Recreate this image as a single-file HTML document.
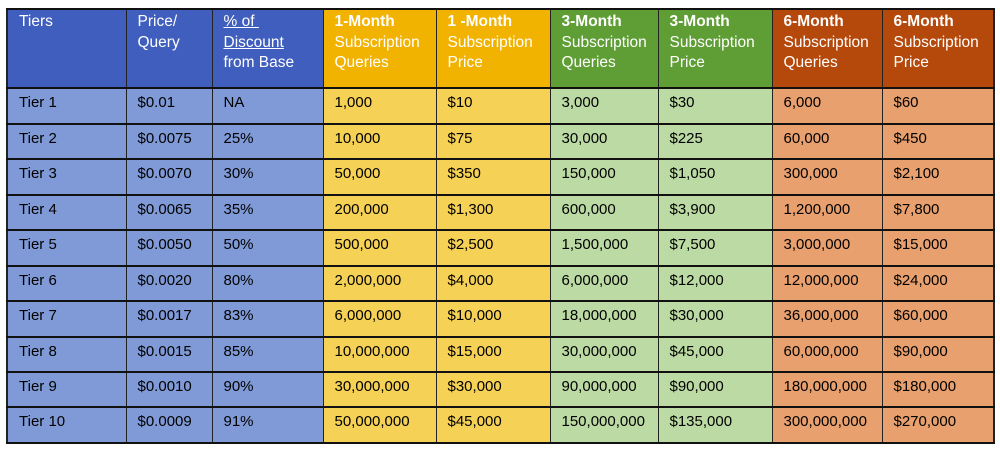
<!DOCTYPE html>
<html><head><meta charset="utf-8"><style>
html,body{margin:0;padding:0;background:#fff;width:1000px;height:452px;overflow:hidden}
table{position:absolute;left:6px;top:8px;width:987px;height:436px;border-collapse:collapse;table-layout:fixed;font-family:"Liberation Sans",Arial,sans-serif;font-size:15px;color:#000;border:2px solid #222}
td{border-left:1.5px solid #222;border-right:1.5px solid #222;border-top:2.5px solid #111;border-bottom:2.5px solid #111;padding:4px 0 0 11px;vertical-align:top;line-height:19px;height:33px;box-sizing:border-box;white-space:nowrap;overflow:hidden}
tr.h td{height:74px;color:#fff;font-size:15.5px;line-height:20.5px;padding-top:2px}
.b{background:#7f9ad6}.bh{background:#3f5ebd}
.o{background:#f5d156}.oh{background:#f2b200}
.g{background:#bcdaa3}.gh{background:#5f9d35}
.r{background:#e8a06f}.rh{background:#b5480b}
u{text-decoration:underline}
</style></head><body>
<table>
<colgroup><col style="width:119px"><col style="width:86px"><col style="width:111px"><col style="width:113px"><col style="width:114px"><col style="width:108px"><col style="width:114px"><col style="width:110px"><col style="width:112px"></colgroup>
<tr class="h"><td class="bh">Tiers</td><td class="bh">Price/<br>Query</td><td class="bh"><u>% of&nbsp;</u><br><u>Discount</u><br>from Base</td><td class="oh"><b>1-Month</b><br>Subscription<br>Queries</td><td class="oh"><b>1 -Month</b><br>Subscription<br>Price</td><td class="gh"><b>3-Month</b><br>Subscription<br>Queries</td><td class="gh"><b>3-Month</b><br>Subscription<br>Price</td><td class="rh"><b>6-Month</b><br>Subscription<br>Queries</td><td class="rh"><b>6-Month</b><br>Subscription<br>Price</td></tr>
<tr><td class="b">Tier 1</td><td class="b">$0.01</td><td class="b">NA</td><td class="o">1,000</td><td class="o">$10</td><td class="g">3,000</td><td class="g">$30</td><td class="r">6,000</td><td class="r">$60</td></tr>
<tr><td class="b">Tier 2</td><td class="b">$0.0075</td><td class="b">25%</td><td class="o">10,000</td><td class="o">$75</td><td class="g">30,000</td><td class="g">$225</td><td class="r">60,000</td><td class="r">$450</td></tr>
<tr><td class="b">Tier 3</td><td class="b">$0.0070</td><td class="b">30%</td><td class="o">50,000</td><td class="o">$350</td><td class="g">150,000</td><td class="g">$1,050</td><td class="r">300,000</td><td class="r">$2,100</td></tr>
<tr><td class="b">Tier 4</td><td class="b">$0.0065</td><td class="b">35%</td><td class="o">200,000</td><td class="o">$1,300</td><td class="g">600,000</td><td class="g">$3,900</td><td class="r">1,200,000</td><td class="r">$7,800</td></tr>
<tr><td class="b">Tier 5</td><td class="b">$0.0050</td><td class="b">50%</td><td class="o">500,000</td><td class="o">$2,500</td><td class="g">1,500,000</td><td class="g">$7,500</td><td class="r">3,000,000</td><td class="r">$15,000</td></tr>
<tr><td class="b">Tier 6</td><td class="b">$0.0020</td><td class="b">80%</td><td class="o">2,000,000</td><td class="o">$4,000</td><td class="g">6,000,000</td><td class="g">$12,000</td><td class="r">12,000,000</td><td class="r">$24,000</td></tr>
<tr><td class="b">Tier 7</td><td class="b">$0.0017</td><td class="b">83%</td><td class="o">6,000,000</td><td class="o">$10,000</td><td class="g">18,000,000</td><td class="g">$30,000</td><td class="r">36,000,000</td><td class="r">$60,000</td></tr>
<tr><td class="b">Tier 8</td><td class="b">$0.0015</td><td class="b">85%</td><td class="o">10,000,000</td><td class="o">$15,000</td><td class="g">30,000,000</td><td class="g">$45,000</td><td class="r">60,000,000</td><td class="r">$90,000</td></tr>
<tr><td class="b">Tier 9</td><td class="b">$0.0010</td><td class="b">90%</td><td class="o">30,000,000</td><td class="o">$30,000</td><td class="g">90,000,000</td><td class="g">$90,000</td><td class="r">180,000,000</td><td class="r">$180,000</td></tr>
<tr><td class="b">Tier 10</td><td class="b">$0.0009</td><td class="b">91%</td><td class="o">50,000,000</td><td class="o">$45,000</td><td class="g">150,000,000</td><td class="g">$135,000</td><td class="r">300,000,000</td><td class="r">$270,000</td></tr>
</table>
</body></html>
